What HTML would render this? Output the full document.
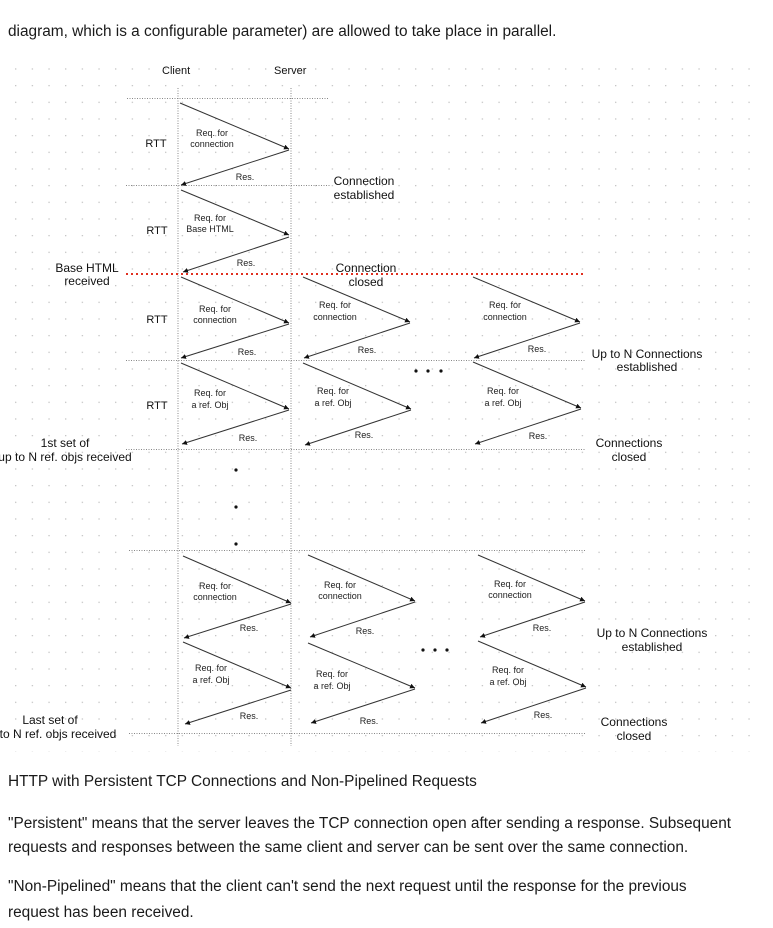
<!DOCTYPE html>
<html><head><meta charset="utf-8"><style>
html,body{margin:0;padding:0;background:#fff;}
svg{display:block}
text{font-family:"Liberation Sans",Arial,sans-serif;fill:#111}
.s{font-size:9px;fill:#222}
.m{font-size:12px}
.b{font-size:15.4px;fill:#1a1a1a}
</style></head><body>
<svg width="773" height="928" viewBox="0 0 773 928" xmlns="http://www.w3.org/2000/svg">
<defs>
<pattern id="g" x="15" y="68.3" width="16.667" height="16.667" patternUnits="userSpaceOnUse">
<circle cx="0.7" cy="0.7" r="0.7" fill="#bdbdbd"/></pattern>
<marker id="a" markerWidth="6" markerHeight="6" refX="5" refY="3" orient="auto" markerUnits="userSpaceOnUse">
<path d="M0,0.5 L5,3 L0,5.5 z" fill="#111"/></marker>
</defs>
<rect x="10" y="62" width="755" height="690" fill="url(#g)"/>
<text class="b" x="8" y="36">diagram, which is a configurable parameter) are allowed to take place in parallel.</text>
<text class="m" x="162" y="74" style="font-size:11px">Client</text>
<text class="m" x="274" y="74" style="font-size:11px">Server</text>
<g stroke="#888" stroke-width="1" stroke-dasharray="1,1.5" fill="none">
<line x1="178" y1="88" x2="178" y2="746"/>
<line x1="291" y1="88" x2="291" y2="746"/>
<line x1="127" y1="98.5" x2="329" y2="98.5"/>
<line x1="126" y1="185.5" x2="330" y2="185.5"/>
<line x1="126" y1="360.5" x2="586" y2="360.5"/>
<line x1="126" y1="449.5" x2="586" y2="449.5"/>
<line x1="129" y1="550.5" x2="586" y2="550.5"/>
<line x1="129" y1="733.5" x2="586" y2="733.5"/>
</g>
<line x1="126" y1="274" x2="583" y2="274" stroke="#e03020" stroke-width="2" stroke-dasharray="2,3"/>
<g stroke="#333" stroke-width="1" fill="none" marker-end="url(#a)">
<line x1="180" y1="103" x2="289" y2="149"/><line x1="289" y1="150" x2="181" y2="185"/>
<line x1="181" y1="190" x2="289" y2="235"/><line x1="289" y1="237" x2="183" y2="272"/>
<line x1="181" y1="277" x2="289" y2="323"/><line x1="289" y1="324" x2="181" y2="358"/>
<line x1="181" y1="363" x2="289" y2="409"/><line x1="289" y1="410" x2="182" y2="444"/>
<line x1="303" y1="277" x2="410" y2="322"/><line x1="410" y1="323" x2="304" y2="358"/>
<line x1="303" y1="363" x2="411" y2="409"/><line x1="411" y1="410" x2="305" y2="445"/>
<line x1="473" y1="277" x2="580" y2="322"/><line x1="580" y1="323" x2="474" y2="358"/>
<line x1="473" y1="362" x2="581" y2="408"/><line x1="581" y1="409" x2="475" y2="444"/>
<line x1="183" y1="556" x2="291" y2="603"/><line x1="291" y1="604" x2="184" y2="638"/>
<line x1="183" y1="642" x2="291" y2="688"/><line x1="291" y1="690" x2="185" y2="724"/>
<line x1="308" y1="555" x2="415" y2="601"/><line x1="415" y1="602" x2="310" y2="637"/>
<line x1="308" y1="643" x2="415" y2="688"/><line x1="415" y1="689" x2="311" y2="723"/>
<line x1="478" y1="555" x2="585" y2="601"/><line x1="585" y1="602" x2="480" y2="637"/>
<line x1="478" y1="641" x2="586" y2="687"/><line x1="586" y1="688" x2="481" y2="723"/>
</g>
<g fill="#111">
<circle cx="416" cy="371" r="1.6"/><circle cx="428" cy="371" r="1.6"/><circle cx="441" cy="371" r="1.6"/>
<circle cx="423" cy="650" r="1.6"/><circle cx="435" cy="650" r="1.6"/><circle cx="447" cy="650" r="1.6"/>
<circle cx="236" cy="470" r="1.6"/><circle cx="236" cy="507" r="1.6"/><circle cx="236" cy="544" r="1.6"/>
</g>
<g class="s" text-anchor="middle">
<text x="212" y="136" class="s">Req. for</text><text x="212" y="147" class="s">connection</text>
<text x="245" y="180" class="s">Res.</text>
<text x="210" y="221" class="s">Req. for</text><text x="210" y="232" class="s">Base HTML</text>
<text x="246" y="266" class="s">Res.</text>
<text x="215" y="312" class="s">Req. for</text><text x="215" y="323" class="s">connection</text>
<text x="247" y="355" class="s">Res.</text>
<text x="210" y="396" class="s">Req. for</text><text x="210" y="408" class="s">a ref. Obj</text>
<text x="248" y="441" class="s">Res.</text>
<text x="335" y="308" class="s">Req. for</text><text x="335" y="320" class="s">connection</text>
<text x="367" y="353" class="s">Res.</text>
<text x="333" y="394" class="s">Req. for</text><text x="333" y="406" class="s">a ref. Obj</text>
<text x="364" y="438" class="s">Res.</text>
<text x="505" y="308" class="s">Req. for</text><text x="505" y="320" class="s">connection</text>
<text x="537" y="352" class="s">Res.</text>
<text x="503" y="394" class="s">Req. for</text><text x="503" y="406" class="s">a ref. Obj</text>
<text x="538" y="439" class="s">Res.</text>
<text x="215" y="589" class="s">Req. for</text><text x="215" y="600" class="s">connection</text>
<text x="249" y="631" class="s">Res.</text>
<text x="211" y="671" class="s">Req. for</text><text x="211" y="683" class="s">a ref. Obj</text>
<text x="249" y="719" class="s">Res.</text>
<text x="340" y="588" class="s">Req. for</text><text x="340" y="599" class="s">connection</text>
<text x="365" y="634" class="s">Res.</text>
<text x="332" y="677" class="s">Req. for</text><text x="332" y="689" class="s">a ref. Obj</text>
<text x="369" y="724" class="s">Res.</text>
<text x="510" y="587" class="s">Req. for</text><text x="510" y="598" class="s">connection</text>
<text x="542" y="631" class="s">Res.</text>
<text x="508" y="673" class="s">Req. for</text><text x="508" y="685" class="s">a ref. Obj</text>
<text x="543" y="718" class="s">Res.</text>
</g>
<g class="m" text-anchor="middle" style="font-size:11px">
<text x="156" y="147">RTT</text><text x="157" y="234">RTT</text>
<text x="157" y="323">RTT</text><text x="157" y="409">RTT</text>
</g>
<g class="m" text-anchor="middle">
<text x="364" y="185">Connection</text><text x="364" y="199">established</text>
<text x="366" y="272">Connection</text><text x="366" y="286">closed</text>
<text x="647" y="358">Up to N Connections</text><text x="647" y="371">established</text>
<text x="629" y="447">Connections</text><text x="629" y="461">closed</text>
<text x="652" y="637">Up to N Connections</text><text x="652" y="651">established</text>
<text x="634" y="726">Connections</text><text x="634" y="740">closed</text>
<text x="87" y="272">Base HTML</text><text x="87" y="285">received</text>
<text x="65" y="447">1st set of</text><text x="65" y="461">up to N ref. objs received</text>
<text x="50" y="724">Last set of</text><text x="58" y="738">to N ref. objs received</text>
</g>
<text class="b" x="8" y="786">HTTP with Persistent TCP Connections and Non-Pipelined Requests</text>
<text class="b" x="8" y="828">"Persistent" means that the server leaves the TCP connection open after sending a response. Subsequent</text>
<text class="b" x="8" y="852">requests and responses between the same client and server can be sent over the same connection.</text>
<text class="b" x="8" y="891">"Non-Pipelined" means that the client can't send the next request until the response for the previous</text>
<text class="b" x="8" y="917">request has been received.</text>
</svg>
</body></html>
